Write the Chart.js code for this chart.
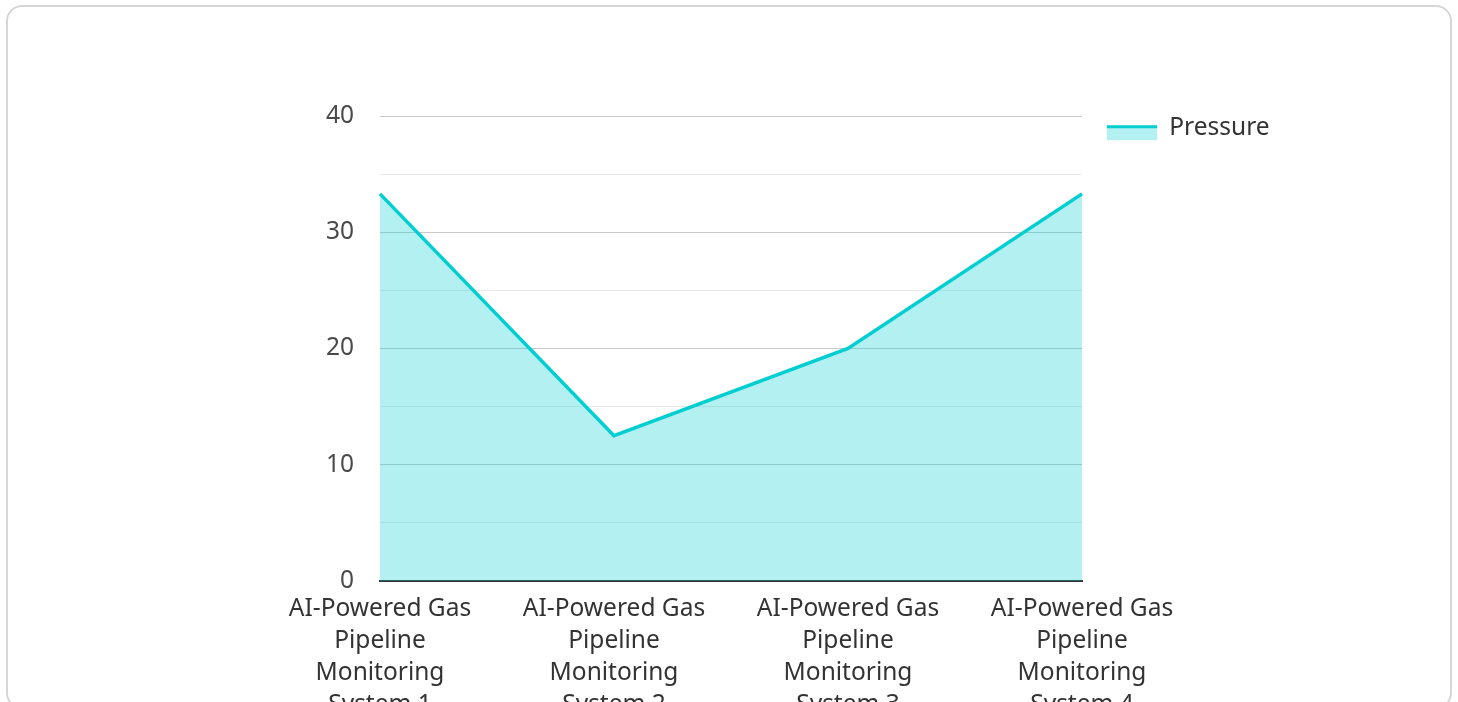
<!DOCTYPE html>
<html>
<head>
<meta charset="utf-8">
<title>Pressure</title>
<script src="https://cdn.jsdelivr.net/npm/chart.js@4/dist/chart.umd.min.js"></script>
<style>
  html, body { margin: 0; padding: 0; background: #ffffff; overflow: hidden; width: 1458px; height: 702px; }
  .card {
    position: absolute; left: 6px; top: 5px; width: 1446px; height: 704px;
    box-sizing: border-box; border: 2px solid #d6d6d6; border-radius: 16px; background: #ffffff;
  }
  #chart { position: absolute; left: 0; top: 0; }
</style>
</head>
<body>
<div class="card"></div>
<canvas id="chart" width="1458" height="760"></canvas>
<script>
// Categories (multi-line axis labels)
const categories = [
  ['AI-Powered Gas', 'Pipeline', 'Monitoring', 'System 1'],
  ['AI-Powered Gas', 'Pipeline', 'Monitoring', 'System 2'],
  ['AI-Powered Gas', 'Pipeline', 'Monitoring', 'System 3'],
  ['AI-Powered Gas', 'Pipeline', 'Monitoring', 'System 4']
];
const seriesName = 'Pressure';
const pressure = [33.3, 12.5, 20, 33.3];
const yMin = 0;
const yMax = 40;
const yStep = 5;        // minor grid every 5
const yLabelStep = 10;  // labelled ticks every 10

const lineColor = '#00CED1';
const fillColor = 'rgba(0, 206, 209, 0.3)';
const fontFamily = '"Noto Sans", "Open Sans", sans-serif';
const fontSize = 24.5;

// Legend glyph: light fill with a solid line along its top edge
function makeLegendGlyph() {
  const c = document.createElement('canvas');
  c.width = 50; c.height = 30;
  const g = c.getContext('2d');
  g.fillStyle = fillColor;
  g.fillRect(0, 12, 50, 15);
  g.fillStyle = lineColor;
  g.fillRect(0, 12, 50, 3);
  return c;
}

new Chart(document.getElementById('chart'), {
  type: 'line',
  data: {
    labels: categories,
    datasets: [{
      label: seriesName,
      data: pressure,
      borderColor: lineColor,
      backgroundColor: fillColor,
      borderWidth: 3.5,
      fill: 'origin',
      tension: 0,
      pointRadius: 0,
      pointHoverRadius: 0
    }]
  },
  options: {
    responsive: false,
    devicePixelRatio: 1,
    animation: false,
    layout: { padding: { left: 300, right: 186, top: 91, bottom: 39 } },
    plugins: {
      tooltip: { enabled: false },
      title: {
        display: true,
        text: '',
        fullSize: false,
        padding: 0,
        font: { size: 1, lineHeight: '25px' }
      },
      legend: {
        position: 'right',
        align: 'start',
        maxWidth: 190,
        labels: {
          usePointStyle: true,
          pointStyle: makeLegendGlyph(),
          pointStyleWidth: 50,
          padding: 25,
          color: '#333333',
          font: { family: fontFamily, size: fontSize }
        }
      }
    },
    scales: {
      x: {
        grid: { display: false, drawTicks: false },
        border: { display: true, color: '#333333', width: 2 },
        ticks: {
          color: '#333333',
          padding: 12,
          maxRotation: 0,
          autoSkip: false,
          font: { family: fontFamily, size: fontSize, lineHeight: 32 / fontSize }
        },
        afterFit: (scale) => { scale.height = 140; }
      },
      y: {
        min: yMin,
        max: yMax,
        grid: {
          drawTicks: false,
          color: (ctx) => (ctx.tick && ctx.tick.value % yLabelStep === 0) ? '#c9c9c9' : '#e8e8e8',
          lineWidth: 1
        },
        border: { display: false },
        ticks: {
          stepSize: yStep,
          padding: 26,
          color: '#4a4a4a',
          font: { family: fontFamily, size: fontSize },
          callback: (v) => (v % yLabelStep === 0 ? String(v) : '')
        },
        afterFit: (scale) => { scale.width = 80; }
      }
    }
  }
});
</script>
</body>
</html>
